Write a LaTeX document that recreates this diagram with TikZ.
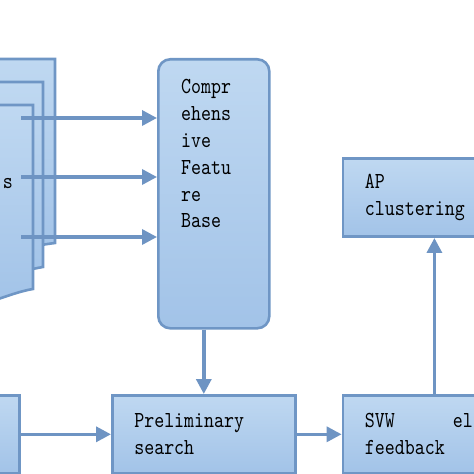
\documentclass[tikz,border=0pt]{standalone}
\usepackage{fontspec}
\newfontfamily\boxfont{lmmono10-regular.otf}[FakeStretch=0.83]
\usetikzlibrary{arrows.meta, positioning}

\definecolor{boxline}{HTML}{6F96C5}
\definecolor{boxtop}{HTML}{BFD8F1}
\definecolor{boxbottom}{HTML}{A2C3E8}
\definecolor{arrowline}{HTML}{6E94C3}

\begin{document}
\begin{tikzpicture}[
    x=1bp, y=-1bp,
    node distance=45bp,
    block/.style={rectangle, draw=boxline, top color=boxtop, bottom color=boxbottom, line width=2.6bp, minimum width=183bp, minimum height=78bp, inner xsep=22bp, text width=139bp, align=left, font=\boxfont\fontsize{23}{27}\selectfont},
    doc/.style={draw=boxline, line width=2.6bp, top color=boxtop, bottom color=boxbottom},
    txt/.style={inner sep=0pt, align=left, font=\boxfont\fontsize{23}{27}\selectfont},
    arrow/.style={-{Triangle[length=15bp,width=15bp]}, line width=3.4bp, draw=arrowline}
]
    \useasboundingbox (0,0) rectangle (474,474);
    \clip (0,0) rectangle (474,474);

    % stack of documents
    \draw[doc] (-20,59) -- (55,59) -- (55,243) .. controls (30,246) and (10,252) .. (-20,258) -- cycle;
    \draw[doc] (-20,82) -- (43,82) -- (43,267) .. controls (25,270) and (5,276) .. (-20,282) -- cycle;
    \draw[doc] (-20,105) -- (33,105) -- (33,289) .. controls (20,291) and (5,297) .. (-20,305) -- cycle;
    \node[txt, anchor=base east] (doclabel) at (13,189) {s};
    \coordinate (d1) at (21,118);
    \coordinate (d2) at (21,177);
    \coordinate (d3) at (21,237);

    \node[block, rounded corners=12bp, text width=67bp, minimum width=111bp, minimum height=269bp, anchor=north west] (base) at (157,58) {};
    \node[txt, anchor=north west] (basetext) at ([shift={(24,21)}]base.north west) {Compr\\ehens\\ive\\Featu\\re\\Base};

    \node[block, anchor=north west] (prelim) at (111,394) {Preliminary\\search};
    \node[block, right=of prelim] (svw) {SVW\hspace{58bp}el\\feedback};
    \node[block, left=90bp of prelim] (entry) {};
    \node[block, above=156bp of svw] (ap) {AP\\clustering};

    \draw[arrow] (d1) -- (d1 -| base.west);
    \draw[arrow] (d2) -- (d2 -| base.west);
    \draw[arrow] (d3) -- (d3 -| base.west);
    \draw[arrow] (prelim.north |- base.south) -- (prelim.north);
    \draw[arrow] (entry) -- (prelim);
    \draw[arrow] (prelim) -- (svw);
    \draw[arrow] (svw) -- (ap);
\end{tikzpicture}
\end{document}
